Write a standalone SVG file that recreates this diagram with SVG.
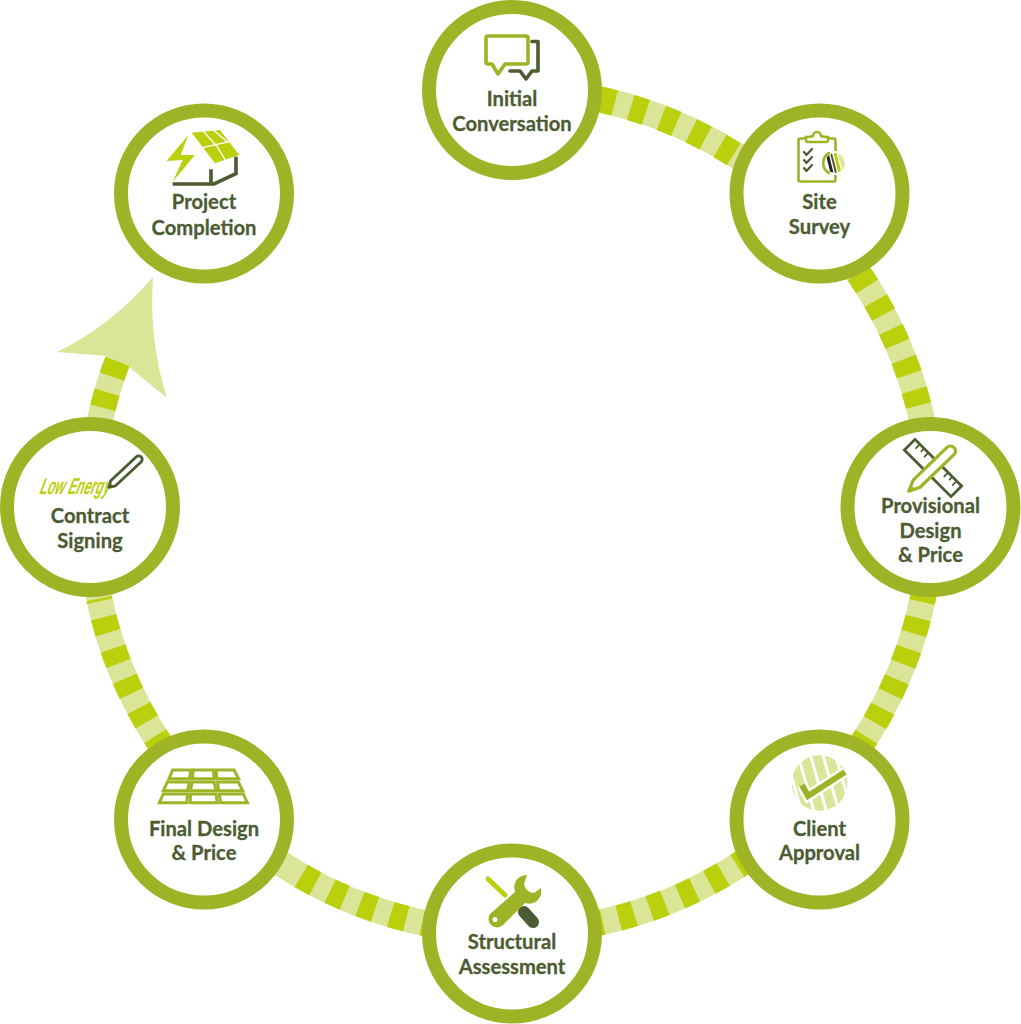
<svg xmlns="http://www.w3.org/2000/svg" width="1021" height="1024" viewBox="0 0 1021 1024">
<style>
.base{fill:none;stroke:#dbe597;stroke-width:26}
.dash{fill:none;stroke:#bad00d;stroke-width:26;stroke-dasharray:16 16.500}
.ring{fill:#fff;stroke:#9fb326;stroke-width:14}
.t{font-family:"Lato","Liberation Sans",sans-serif;font-weight:700;font-size:20.200px;fill:#4d5b32;stroke:#4d5b32;stroke-width:.3;text-anchor:middle}
.o{fill:none;stroke:#9fb326;stroke-linejoin:round;stroke-linecap:round}
.d{fill:none;stroke:#4d5b32;stroke-linejoin:round;stroke-linecap:round}
</style>
<defs>
<clipPath id="clipLens"><circle cx="835" cy="163" r="10"/></clipPath>
<clipPath id="clipTick"><circle cx="819.500" cy="783" r="28"/></clipPath>
</defs>
<g id="connectors">
<path class="base" d="M569.6 94.1A421 421 0 0 1 770.2 179.2"/>
<path class="dash" d="M599.2 99.3A421 421 0 0 1 744 161"/>
<path class="base" d="M833.5 240.4A421 421 0 0 1 925.6 437.9"/>
<path class="dash" d="M858.4 273.1A421 421 0 0 1 922.3 421.3"/>
<path class="base" d="M927.9 569.6A421 421 0 0 1 842.7 770.2"/>
<path class="dash" d="M925.2 586.3A421 421 0 0 1 858 749.5"/>
<path class="base" d="M781.6 833.5A421 421 0 0 1 569.6 927.9"/>
<path class="dash" d="M750.7 857.1A421 421 0 0 1 598.5 922.8"/>
<path class="base" d="M452.4 927.9A421 421 0 0 1 251.8 842.7"/>
<path class="dash" d="M437.9 925.6A421 421 0 0 1 287.9 868"/>
<path class="base" d="M188.5 781.6A421 421 0 0 1 94.1 569.6"/>
<path class="dash" d="M164 749.5A421 421 0 0 1 99.2 598.5"/>
<path class="base" d="M94.1 452.4A421 421 0 0 1 132.6 326.4"/>
<path class="dash" d="M102.9 407.7A421 421 0 0 1 132.6 326.4"/>
<path id="arrowhead" fill="#dbe597" d="M153 277C125 310 92 335 57 352L107 356L120 356L129 367L167 398C155 360 150 320 153 277Z"/>
</g>
<g id="node-initial">
<circle class="ring" cx="512" cy="90" r="83"/>
<path class="d" stroke-width="3.600" d="M532 41.500H538V71H532L526 79L520 71H510"/>
<path class="o" stroke-width="3.600" d="M488 36H526Q528 36 528 38V62Q528 64 526 64H505L498 74L492 64H488Q486 64 486 62V38Q486 36 488 36Z"/>
<text class="t" x="512" y="106">Initial</text>
<text class="t" x="512" y="131">Conversation</text>
</g>
<g id="node-site">
<circle class="ring" cx="819.500" cy="193.500" r="83"/>
<rect x="798.500" y="138.500" width="37" height="43" rx="1.500" fill="#fff" stroke="#9fb326" stroke-width="2.600"/>
<path fill="#fff" stroke="#9fb326" stroke-width="2.600" d="M806 137Q811 137 813 136A4 4 0 0 1 821 136Q823 137 828 137V140Q828 142 826 142H808Q806 142 806 140Z"/>
<path class="d" stroke-width="2.200" d="M804 152L806.500 155L812 149M804 160L806.500 163L812 157M804 168L806.500 171L812 165"/>
<circle cx="835" cy="163" r="12" fill="#fff"/>
<path class="o" stroke-width="2.600" d="M829 153A11.500 11.500 0 0 0 829 173"/>
<g clip-path="url(#clipLens)" fill="none" stroke-width="2">
<path stroke="#222" stroke-width="3" d="M827 153L832 173"/>
<path stroke="#4d5b32" stroke-width="2" d="M831 153L836 173"/>
<path stroke="#bad00d" stroke-width="3" d="M835 153L840 173"/>
<path stroke="#dbe597" stroke-width="4" d="M840 153L845 173"/>
</g>
<text class="t" x="819.500" y="209">Site</text>
<text class="t" x="819.500" y="234">Survey</text>
</g>
<g id="node-provisional">
<circle class="ring" cx="930.500" cy="507" r="83"/>
<g transform="translate(933 468) rotate(45)">
<rect x="-33" y="-7.500" width="66" height="15" fill="#fff" stroke="#4d5b32" stroke-width="2.800"/>
<path class="d" stroke-width="1.800" d="M-26 -7V-2M-20 -7V-3.500M-14 -7V-2M14 -7V-2M20 -7V-3.500M26 -7V-2"/>
</g>
<g transform="translate(908 492) rotate(-44)">
<path fill="#fff" stroke="#9fb326" stroke-width="3.200" stroke-linejoin="round" d="M1 0L12 -5H59A5 5 0 0 1 59 5H12Z"/>
<path fill="#9fb326" d="M0 0L7 -3V3Z"/>
</g>
<text class="t" x="930.500" y="512.500">Provisional</text>
<text class="t" x="930.500" y="537.500">Design</text>
<text class="t" x="930.500" y="562">&amp; Price</text>
</g>
<g id="node-client">
<circle class="ring" cx="819.500" cy="819.500" r="83"/>
<g clip-path="url(#clipTick)">
<circle cx="819.500" cy="783" r="28" fill="#dbe597"/>
<path stroke="#fff" stroke-width="3" fill="none" d="M784 750L804 820M796.500 750L816.500 820M809 750L829 820M821.500 750L841.500 820M834 750L854 820"/>
</g>
<path fill="none" stroke="#fff" stroke-width="11" d="M802 785L808 796L845 772"/>
<path fill="none" stroke="#9fb326" stroke-width="6" d="M802 785L808 796L845 772"/>
<text class="t" x="819.500" y="835.500">Client</text>
<text class="t" x="819.500" y="860">Approval</text>
</g>
<g id="node-structural">
<circle class="ring" cx="512" cy="933.500" r="83"/>
<path stroke="#bad00d" stroke-width="5" stroke-linecap="round" d="M488 879L505 895" fill="none"/>
<path stroke="#4d5b32" stroke-width="12" stroke-linecap="round" d="M524 912L533 922" fill="none"/>
<path fill="#9fb326" d="M527 875C518 875 512 883 515 892L491 913A8 8 0 0 0 503 925L525 903C534 906 543 899 541 888L534 893C529 893 525 889 524 884Z"/>
<circle cx="495" cy="919.500" r="2.500" fill="#fff"/>
<text class="t" x="512" y="949">Structural</text>
<text class="t" x="512" y="974">Assessment</text>
</g>
<g id="node-final">
<circle class="ring" cx="204" cy="819.500" r="83"/>
<g transform="translate(110 725) scale(.3333)" fill="#fff" stroke="#9fb326" stroke-width="9">
<path d="M188 135H243L238 161H177Z"/>
<path d="M250 135H310L312 161H247Z"/>
<path d="M318 135H372L386 161H320Z"/>
<path d="M172 171H238L233 197H160Z"/>
<path d="M246 171H312L318 197H242Z"/>
<path d="M322 171H385L398 197H326Z"/>
<path d="M160 207H233L230 233H148Z"/>
<path d="M242 207H318L322 233H240Z"/>
<path d="M328 207H400L412 233H332Z"/>
</g>
<text class="t" x="204" y="836">Final Design</text>
<text class="t" x="204" y="860">&amp; Price</text>
</g>
<g id="node-contract">
<circle class="ring" cx="90" cy="507" r="83"/>
<text transform="translate(39 494) skewX(-16)" textLength="70" lengthAdjust="spacingAndGlyphs" font-family="Liberation Sans, sans-serif" font-style="italic" font-weight="700" font-size="23px" fill="#bad00d">Low Energy</text>
<g transform="translate(108 488) rotate(-43)">
<path fill="#fff" stroke="#4d5b32" stroke-width="2.800" stroke-linejoin="round" d="M1 0L7 -3.500H42A3.500 3.500 0 0 1 42 3.500H7Z"/>
<path fill="#4d5b32" d="M0 0L5 -2.500V2.500Z"/>
</g>
<text class="t" x="90" y="523">Contract</text>
<text class="t" x="90" y="548">Signing</text>
</g>
<g id="node-project">
<circle class="ring" cx="204" cy="193.500" r="83"/>
<g transform="translate(40 100) scale(.3333)">
<path fill="#bad00d" d="M455 98L540 90L598 165L525 190Z"/>
<path fill="none" stroke="#fff" stroke-width="4" d="M487 143L568 125M490 94L530 138L558 184M520 90L565 128"/>
<path fill="#bad00d" d="M445 105L380 183L428 180L398 245L465 165L422 165Z"/>
<path fill="none" stroke="#4d5b32" stroke-width="11" d="M398 252H522L588 221V170M513 208V252"/>
</g>
<text class="t" x="204" y="209">Project</text>
<text class="t" x="204" y="234.500">Completion</text>
</g>
</svg>
